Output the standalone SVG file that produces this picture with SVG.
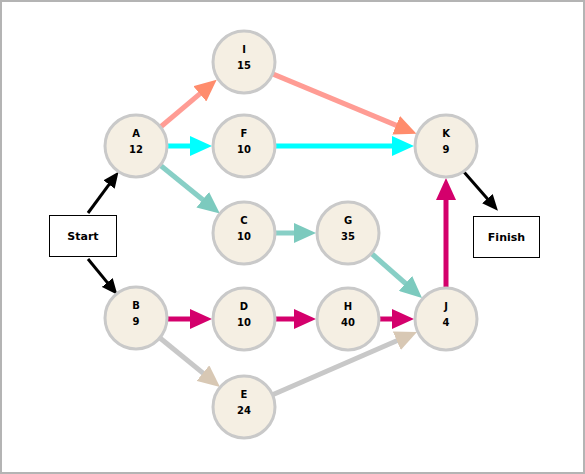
<svg xmlns="http://www.w3.org/2000/svg" width="585" height="474" viewBox="0 0 585 474">
<style>
.node{fill:#f5efe3;stroke:#c9c9c9;stroke-width:3}
.box{fill:#ffffff;stroke:#000000;stroke-width:1}
text{font-family:"DejaVu Sans","Liberation Sans",sans-serif;font-weight:bold;font-size:10px;fill:#000;text-anchor:middle}
.lbl{font-size:11px}
.blk{stroke:#000;stroke-width:3;marker-end:url(#mBlk)}
.sal{stroke:#ff9c94;stroke-width:5;marker-end:url(#mSal)}
.cya{stroke:#00ffff;stroke-width:5;marker-end:url(#mCya)}
.tea{stroke:#88cfc6;stroke-width:5;marker-end:url(#mTea)}
.mag{stroke:#d4006c;stroke-width:5;marker-end:url(#mMag)}
.gry{stroke:#c8c8c8;stroke-width:5;marker-end:url(#mGry)}
</style>
<defs>
<marker id="mBlk" markerUnits="userSpaceOnUse" markerWidth="16" markerHeight="14" refX="7" refY="7" orient="auto"><path d="M0,0 L16,7 L0,14 z" fill="#000"/></marker>
<marker id="mSal" markerUnits="userSpaceOnUse" markerWidth="22" markerHeight="20" refX="10" refY="10" orient="auto"><path d="M0,0 L22,10 L0,20 z" fill="#ff8c6c"/></marker>
<marker id="mCya" markerUnits="userSpaceOnUse" markerWidth="22" markerHeight="20" refX="10" refY="10" orient="auto"><path d="M0,0 L22,10 L0,20 z" fill="#00ffff"/></marker>
<marker id="mTea" markerUnits="userSpaceOnUse" markerWidth="22" markerHeight="20" refX="10" refY="10" orient="auto"><path d="M0,0 L22,10 L0,20 z" fill="#7ccabe"/></marker>
<marker id="mMag" markerUnits="userSpaceOnUse" markerWidth="22" markerHeight="20" refX="10" refY="10" orient="auto"><path d="M0,0 L22,10 L0,20 z" fill="#d4006c"/></marker>
<marker id="mGry" markerUnits="userSpaceOnUse" markerWidth="22" markerHeight="20" refX="10" refY="10" orient="auto"><path d="M0,0 L22,10 L0,20 z" fill="#d8c8b4"/></marker>
</defs>
<rect x="1" y="1" width="583" height="472" fill="#ffffff" stroke="#b4b4b4" stroke-width="2"/>
<g id="connectors">
<line class="blk" x1="88" y1="213" x2="113.2" y2="178.9"/>
<line class="blk" x1="88" y1="259" x2="111.7" y2="287.9"/>
<line class="sal" x1="160.5" y1="127" x2="207.5" y2="87.4"/>
<line class="cya" x1="168" y1="146" x2="200" y2="146"/>
<line class="tea" x1="160" y1="165" x2="210.5" y2="206"/>
<line class="sal" x1="272.6" y1="73.9" x2="405.4" y2="129.1"/>
<line class="cya" x1="276" y1="146" x2="402" y2="146"/>
<line class="tea" x1="276" y1="233" x2="304" y2="233"/>
<line class="tea" x1="371" y1="253" x2="413" y2="290"/>
<line class="mag" x1="168" y1="319" x2="200" y2="319"/>
<line class="mag" x1="276" y1="319" x2="304" y2="319"/>
<line class="mag" x1="380" y1="319" x2="402" y2="319"/>
<line class="mag" x1="446" y1="288" x2="446" y2="190"/>
<line class="blk" x1="464" y1="172" x2="492" y2="204"/>
<line class="gry" x1="160" y1="338" x2="210.7" y2="379.4"/>
<line class="gry" x1="272" y1="395" x2="406" y2="336.8"/>
</g>
<g id="start"><rect class="box" x="49.5" y="215.5" width="67" height="41"/><text class="lbl" x="83" y="240">Start</text></g>
<g id="finish"><rect class="box" x="473.5" y="216.5" width="66" height="41"/><text class="lbl" x="506.5" y="241">Finish</text></g>
<g id="nA"><circle class="node" cx="136" cy="146" r="31"/><text x="136" y="137">A</text><text x="136" y="153">12</text></g>
<g id="nI"><circle class="node" cx="244" cy="62" r="31"/><text x="244" y="53">I</text><text x="244" y="69">15</text></g>
<g id="nF"><circle class="node" cx="244" cy="146" r="31"/><text x="244" y="137">F</text><text x="244" y="153">10</text></g>
<g id="nK"><circle class="node" cx="446" cy="146" r="31"/><text x="446" y="137">K</text><text x="446" y="153">9</text></g>
<g id="nC"><circle class="node" cx="244" cy="233" r="31"/><text x="244" y="224">C</text><text x="244" y="240">10</text></g>
<g id="nG"><circle class="node" cx="348" cy="233" r="31"/><text x="348" y="224">G</text><text x="348" y="240">35</text></g>
<g id="nB"><circle class="node" cx="136" cy="318" r="31"/><text x="136" y="309">B</text><text x="136" y="325">9</text></g>
<g id="nD"><circle class="node" cx="244" cy="319" r="31"/><text x="244" y="310">D</text><text x="244" y="326">10</text></g>
<g id="nH"><circle class="node" cx="348" cy="319" r="31"/><text x="348" y="310">H</text><text x="348" y="326">40</text></g>
<g id="nJ"><circle class="node" cx="446" cy="319" r="31"/><text x="446" y="310">J</text><text x="446" y="326">4</text></g>
<g id="nE"><circle class="node" cx="244" cy="407" r="31"/><text x="244" y="398">E</text><text x="244" y="414">24</text></g>
</svg>
